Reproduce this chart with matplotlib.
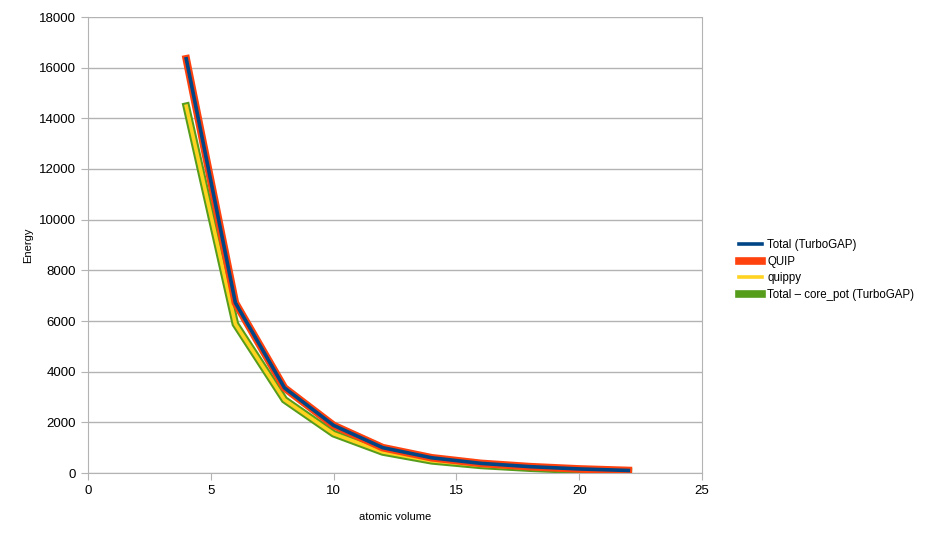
import matplotlib
matplotlib.use("Agg")
import matplotlib.pyplot as plt

plt.rcParams['font.family'] = ['Liberation Sans', 'DejaVu Sans']

# data
volume = [4, 6, 8, 10, 12, 14, 16, 18, 20, 22]
total_turbogap = [16350, 6720, 3360, 1880, 1000, 600, 380, 250, 160, 100]
quip = [16350, 6720, 3360, 1880, 1000, 600, 380, 250, 160, 100]
quippy = [14480, 5880, 2890, 1550, 830, 480, 300, 190, 110, 50]
total_minus_core = [14480, 5880, 2890, 1550, 830, 480, 300, 190, 110, 50]

fig = plt.figure(figsize=(9.27, 5.39), dpi=100)
ax = fig.add_axes([88/927, 66/539, 614/927, 456/539])

grid_col = '#b3b3b3'
l_quip, = ax.plot(volume, quip, color='#ff420e', lw=5.5, zorder=3,
                  solid_joinstyle='miter', label='QUIP')
l_tot, = ax.plot(volume, total_turbogap, color='#004586', lw=2.6, zorder=4,
                 label='Total (TurboGAP)')
l_core, = ax.plot(volume, total_minus_core, color='#579d1c', lw=5.5, zorder=1,
                  solid_joinstyle='miter', label='Total \u2013 core_pot (TurboGAP)')
l_qpy, = ax.plot(volume, quippy, color='#ffd320', lw=2.6, zorder=2, label='quippy')

ax.set_xlim(0, 25)
ax.set_ylim(0, 18000)
ax.set_xticks(range(0, 26, 5))
ax.set_yticks(range(0, 18001, 2000))
ax.yaxis.grid(True, color=grid_col, lw=1)
ax.set_axisbelow(True)
for s in ax.spines.values():
    s.set_color(grid_col)
ax.spines['top'].set_visible(False)
ax.tick_params(colors=grid_col, labelcolor='black', labelsize=9.5, length=5,
               direction='out')

ax.set_xlabel('atomic volume', fontsize=8)
ax.xaxis.set_label_coords(0.5, -0.085)
ax.set_ylabel('Energy', fontsize=8)
ax.yaxis.set_label_coords(-0.089, 0.5)

leg = fig.legend([l_tot, l_quip, l_qpy, l_core],
                 ['Total (TurboGAP)', 'QUIP', 'quippy', 'Total \u2013 core_pot (TurboGAP)'],
                 loc='center left', bbox_to_anchor=(729/927, 1 - 270/539),
                 frameon=False, fontsize=8.3, handlelength=2.0, labelspacing=0.42,
                 handletextpad=0.4)

fig.savefig('out.png', dpi=100)
